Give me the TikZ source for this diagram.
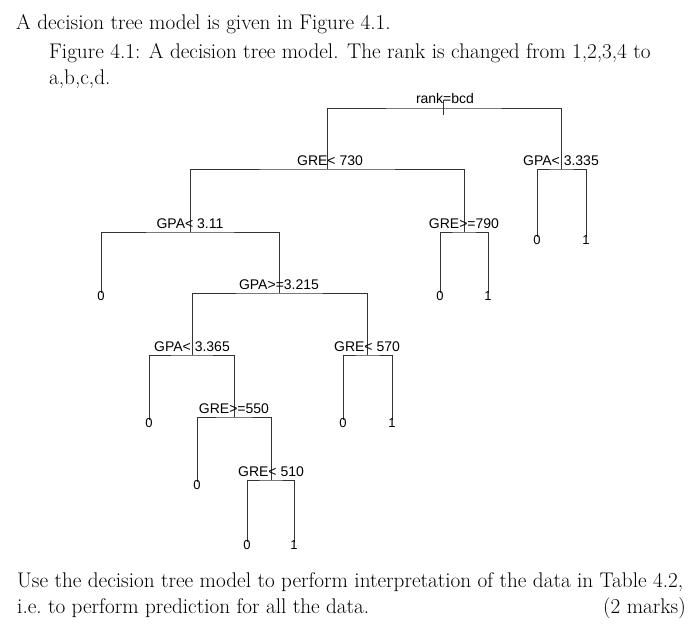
\documentclass[tikz,border=0pt]{standalone}
\usepackage{fontspec}
\newfontfamily\lab{Liberation Sans}
\begin{document}
\begin{tikzpicture}[x=1pt,y=-1pt,
  br/.style={line width=0.9pt,black!80},
  sl/.style={font=\lab\fontsize{14}{16}\selectfont,anchor=base,inner sep=0pt},
  lf/.style={font=\lab\fontsize{13}{15}\selectfont,anchor=north,inner sep=0pt},
  tx/.style={font=\fontsize{21.2}{24}\selectfont,anchor=base west,inner sep=0pt}]
\useasboundingbox (0,0) rectangle (700,631);
% texts
\node[tx] (t1) at (16,30) {A decision tree model is given in Figure 4.1.};
\node[tx] (t2) at (49,59) {Figure 4.1: A decision tree model. The rank is changed from 1,2,3,4 to};
\node[tx] (t3) at (49,85) {a,b,c,d.};
\node[tx] (t4) at (17,587) {Use the decision tree model to perform interpretation of the data in Table 4.2,};
\node[tx] (t5) at (17,613) {i.e.\ to perform prediction for all the data.};
\node[tx,anchor=base east] (t6) at (686,613) {(2 marks)};
% split coordinates
\coordinate (r) at (443,108);
\coordinate (a) at (327,169); \coordinate (b) at (561,169);
\coordinate (c) at (190,232); \coordinate (d) at (464,232);
\coordinate (e) at (279,293);
\coordinate (f) at (192,355); \coordinate (g) at (367,355);
\coordinate (h) at (234,417);
\coordinate (i) at (271,480);
% leaves
\coordinate (b0) at (537,237); \coordinate (b1) at (586,237);
\coordinate (c0) at (101,293);
\coordinate (d0) at (440,293); \coordinate (d1) at (488,293);
\coordinate (f0) at (149,420);
\coordinate (g0) at (343,420); \coordinate (g1) at (392,420);
\coordinate (h0) at (197,482);
\coordinate (i0) at (247,542); \coordinate (i1) at (294,542);
% branches
\draw[br] (r |- 0,100) -- (r |- 0,115);
\draw[br] (a) |- (r) -| (b);
\draw[br] (c) |- (a) -| (d);
\draw[br] (b0) |- (b) -| (b1);
\draw[br] (c0) |- (c) -| (e);
\draw[br] (d0) |- (d) -| (d1);
\draw[br] (f) |- (e) -| (g);
\draw[br] (f0) |- (f) -| (h);
\draw[br] (g0) |- (g) -| (g1);
\draw[br] (h0) |- (h) -| (i);
\draw[br] (i0) |- (i) -| (i1);
% split labels
\node[sl] (lr) at (445,104) {rank=bcd};
\node[sl] (la) at (330,165) {GRE< 730};
\node[sl] (lb) at (561,165) {GPA< 3.335};
\node[sl] (lc) at (190,228) {GPA< 3.11};
\node[sl] (ld) at (464,228) {GRE>=790};
\node[sl] (le) at (279,289) {GPA>=3.215};
\node[sl] (lf2) at (192,351) {GPA< 3.365};
\node[sl] (lg) at (367,351) {GRE< 570};
\node[sl] (lh) at (234,413) {GRE>=550};
\node[sl] (li) at (271,476) {GRE< 510};
% leaf labels
\foreach \p/\v in {b0/0,b1/1,c0/0,d0/0,d1/1,f0/0,g0/0,g1/1,h0/0,i0/0,i1/1}
  \node[lf] (n\p) at ([yshift=2]\p) {\v};
\end{tikzpicture}
\end{document}
